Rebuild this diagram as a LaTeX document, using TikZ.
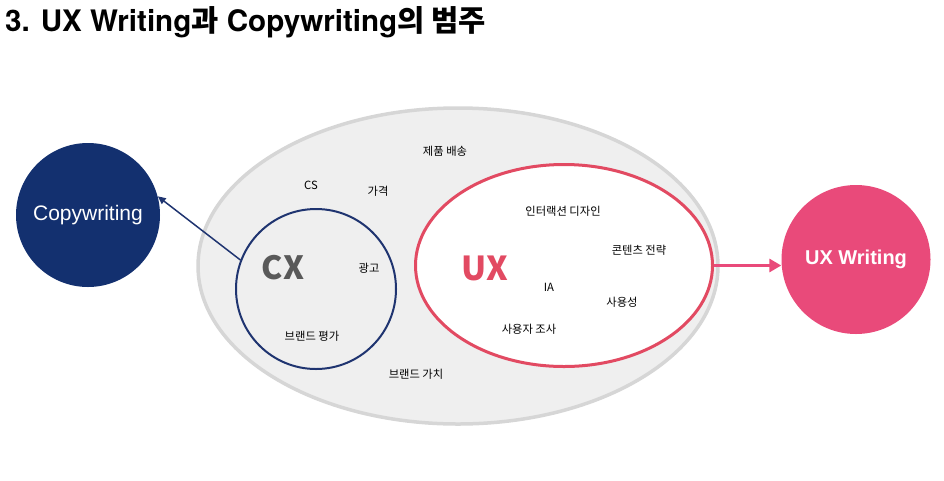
\documentclass[tikz,border=0pt]{standalone}
\usepackage{fontspec}
\setmainfont{Noto Sans CJK KR}
\newfontfamily\heros{TeX Gyre Heros}
\newfontfamily\krb{Noto Sans CJK KR Bold}
\newfontfamily\lib{Liberation Sans}
\usetikzlibrary{arrows.meta,shapes.geometric}
\definecolor{navy}{HTML}{13306F}
\definecolor{navyline}{HTML}{1F3470}
\definecolor{pinkfill}{HTML}{E94A7A}
\definecolor{pinkline}{HTML}{E24A62}
\definecolor{bgfill}{HTML}{EFEFEF}
\definecolor{bgline}{HTML}{D6D6D6}
\definecolor{cxgray}{HTML}{595959}
\tikzset{
  lbl/.style={font=\fontsize{11.3}{12}\selectfont, text=black, inner sep=0pt},
  bigcircle/.style={circle, inner sep=0pt, text=white},
}
\begin{document}
\begin{tikzpicture}[x=1pt,y=-1pt]
\useasboundingbox (0,0) rectangle (944,480);
% title
\node[anchor=base west, inner sep=0pt] (title) at (5,31)
  {\fontsize{29.6}{31}\selectfont\heros\bfseries 3. UX Writing{\krb 과} Copywriting{\krb 의 범주}};
% big ellipse
\node[ellipse, draw=bgline, fill=bgfill, line width=3.5pt, minimum width=520pt, minimum height=316pt, inner sep=0pt] (all) at (458,266) {};
% CX circle
\node[circle, draw=navyline, line width=2pt, minimum size=160pt, inner sep=0pt] (cx) at (316,289) {};
% UX ellipse
\node[ellipse, draw=pinkline, fill=white, line width=3pt, minimum width=297pt, minimum height=202pt, inner sep=0pt] (ux) at (564,265.5) {};
% outer circles
\node[bigcircle, fill=navy, minimum size=144pt] (cw) at (88,215)
  {\fontsize{21}{23}\selectfont\lib Copywriting};
\node[bigcircle, fill=pinkfill, minimum size=149pt] (uxw) at (856,259.5)
  {\fontsize{20}{22}\selectfont\lib\bfseries UX Writing};
% connectors
\draw[navyline, line width=1.5pt, -{Triangle[length=8pt,width=7pt]}] (cx.159) -- (cw.15);
\draw[pinkfill, line width=3pt, -{Triangle[length=12pt,width=13pt]}] (ux.east) -- (ux.east -| uxw.west);
% labels
\node[lbl] (l1) at (445,151) {제품 배송};
\node[lbl] (l2) at (311,185) {CS};
\node[lbl] (l3) at (378,191) {가격};
\node[inner sep=0pt, text=cxgray, font=\fontsize{32}{34}\selectfont\bfseries] (cxl) at (283,268) {CX};
\node[lbl] (l4) at (369,268) {광고};
\node[lbl] (l5) at (312,336) {브랜드 평가};
\node[lbl] (l6) at (416,374) {브랜드 가치};
\node[inner sep=0pt, text=pinkline, font=\fontsize{33}{35}\selectfont\bfseries] (uxl) at (485,268) {UX};
\node[lbl] (l7) at (563,211) {인터랙션 디자인};
\node[lbl] (l8) at (639,250) {콘텐츠 전략};
\node[lbl] (l9) at (549,287) {IA};
\node[lbl] (l10) at (622,302) {사용성};
\node[lbl] (l11) at (529,329) {사용자 조사};
\end{tikzpicture}
\end{document}
